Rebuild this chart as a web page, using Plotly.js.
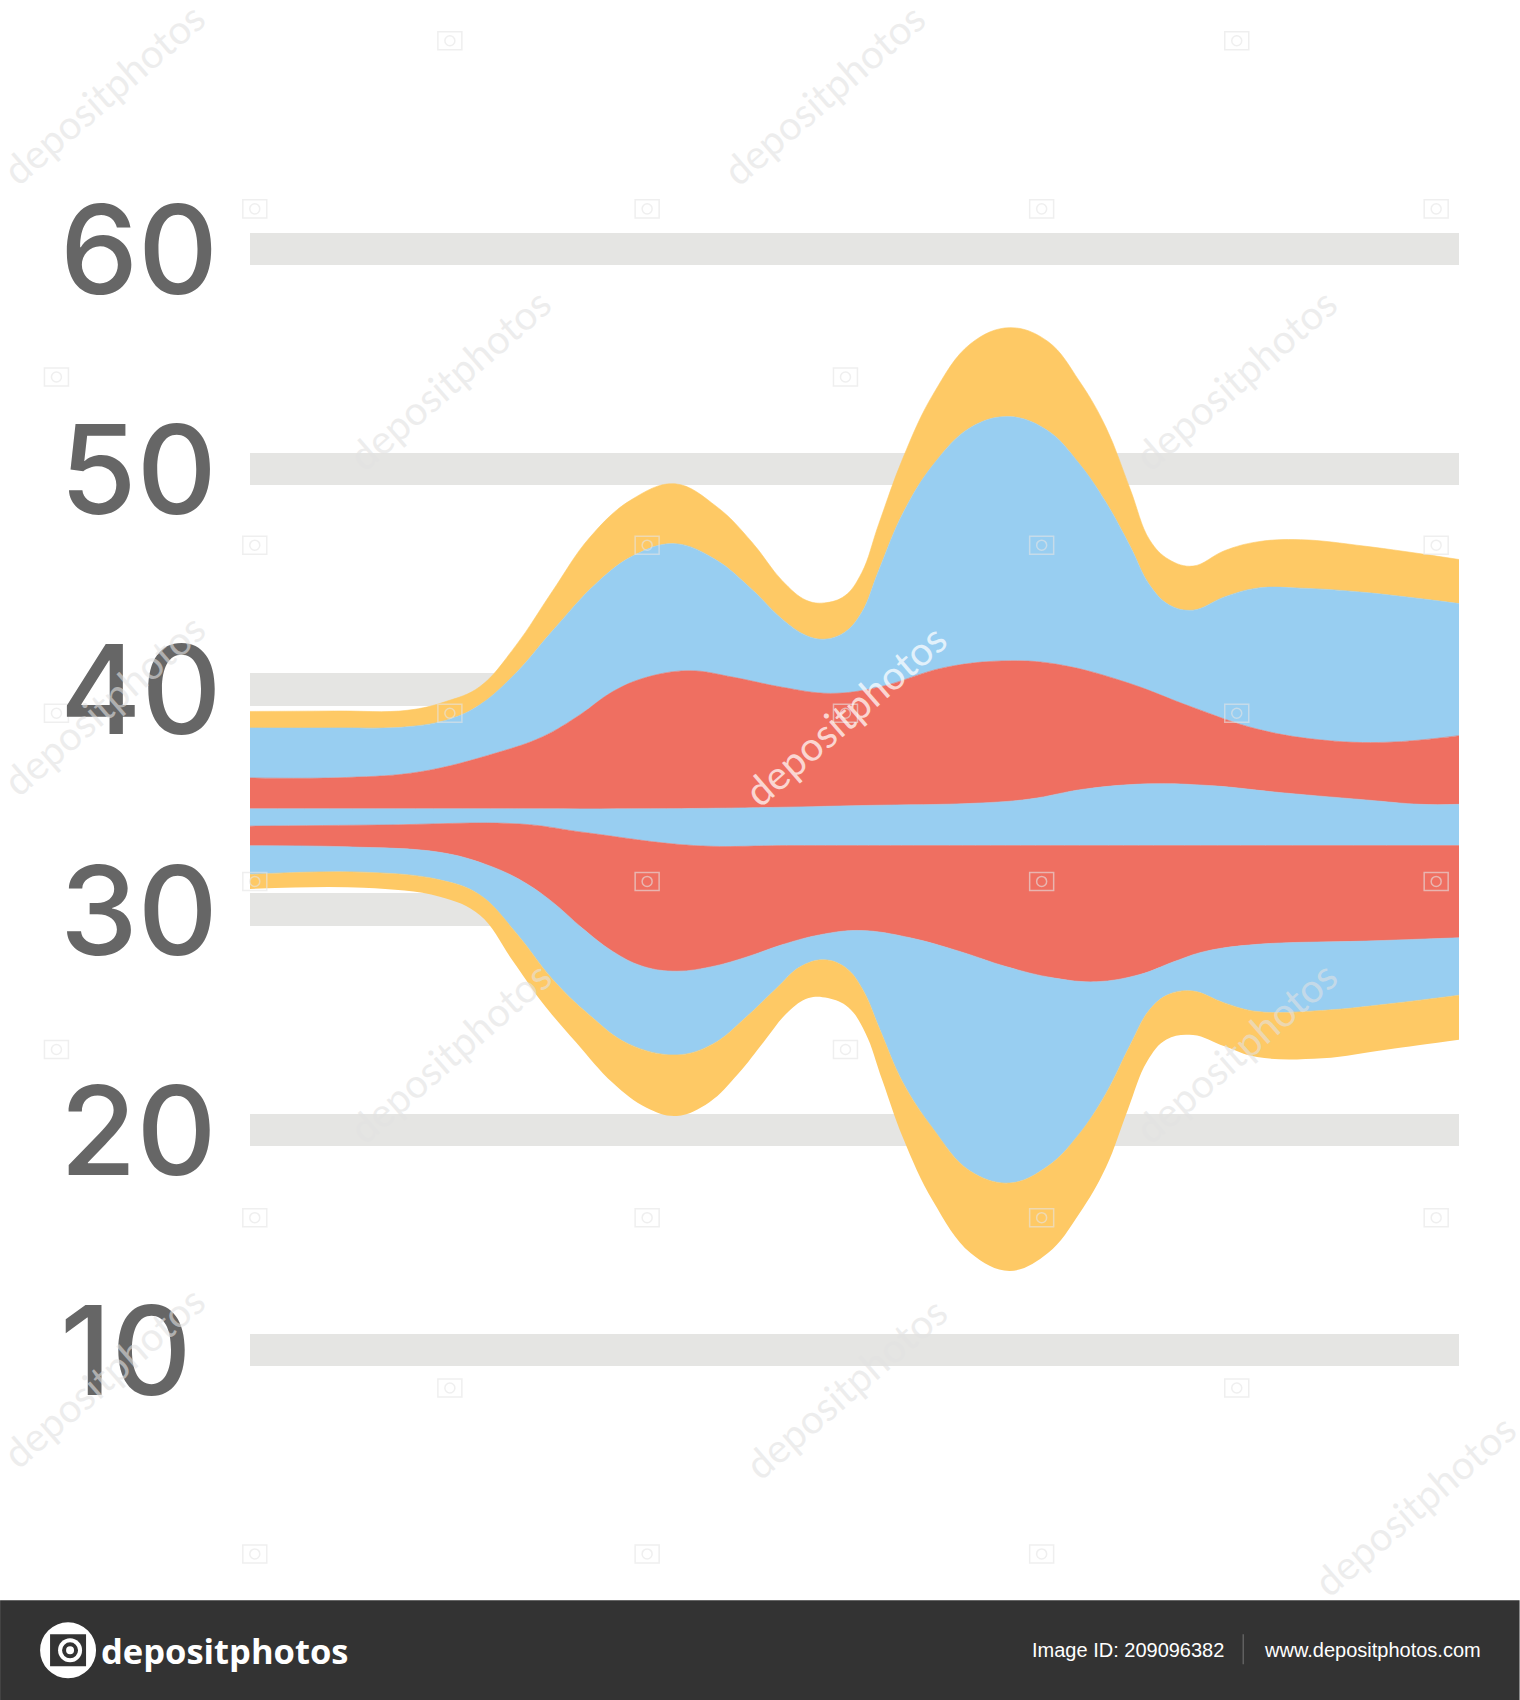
<!DOCTYPE html>
<html><head><meta charset="utf-8">
<script src="https://cdn.plot.ly/plotly-3.0.0.min.js"></script>
<style>html,body{margin:0;padding:0;background:#fff}</style></head>
<body><div id="chart" style="width:1520px;height:1700px"></div>
<script>
const tickValues=[60,50,40,30,20,10];
const tickLabels=["60","50","40","30","20","10"];

const topYellowX=[0,7,13,16.2,19,22,25,28.1,31.5,35.14,38.6,41.5,44,46,47.5,49.2,50.6,52,54,56.5,59.6,62.84,66,68.6,70.8,72.8,74.4,76,78,80.6,83.3,86.9,92.3,100];
const topYellowY=[39.0,39.02,39.05,39.45,40.12,42.0,44.45,46.9,48.6,49.34,48.3,46.7,44.95,44.05,43.93,44.25,45.3,47.5,50.5,53.4,55.7,56.43,55.8,54.0,51.9,49.1,46.8,45.9,45.6,46.3,46.7,46.8,46.5,45.9];

const topBlueX=[0,7,13,16.5,19,22,25,28.7,31.8,35.14,38.5,41.5,44,46,47.5,49.2,50.6,52,54,56.5,59.6,62.84,66,68.6,70.8,72.8,74.4,76,78,80.6,83.3,86.9,92.3,100];
const topBlueY=[38.25,38.25,38.3,38.65,39.3,40.75,42.65,44.85,46.1,46.62,45.9,44.55,43.2,42.45,42.28,42.6,43.5,45.4,48.0,50.2,51.9,52.39,51.75,50.25,48.5,46.5,44.75,43.85,43.6,44.2,44.6,44.6,44.4,43.9];

const topRedX=[0,8,14.1,20.4,24.2,27.3,30,32.8,36.38,40,44,48,52,57.5,62.9,67.2,72.6,77.9,83.3,88.7,94.1,100];
const topRedY=[35.98,36.0,36.26,37.12,37.85,38.85,39.9,40.55,40.85,40.55,40.1,39.82,40.1,41.0,41.3,41.1,40.3,39.2,38.2,37.7,37.6,37.9];

const midBlueX=[0,15.2,33.1,42.1,51.0,60.0,64.5,69.0,74.3,79.7,85.1,92.3,96.8,100];
const midBlueY=[34.58,34.58,34.58,34.63,34.73,34.83,35.02,35.47,35.71,35.62,35.32,34.98,34.78,34.78];

const lowRedX=[0,10.7,22.3,27.7,36.7,45,60,80,100];
const lowRedY=[33.79,33.84,33.89,33.5,32.91,32.91,32.91,32.91,32.91];

const lowBlueX=[0,8,15.7,19.5,22.5,25,27.5,30,32.5,35.31,38.3,41.1,44,47.1,50.5,54.6,58.7,62.6,66.4,70,73.6,76.5,79,83.3,92.3,100];
const lowBlueY=[32.9,32.85,32.6,32.05,31.3,30.35,29.15,28.1,27.42,27.2,27.42,27.85,28.4,28.85,29.05,28.72,28.1,27.4,26.9,26.72,27.05,27.65,28.1,28.42,28.57,28.72];

const lowYellowX=[0,9.4,15.7,19,22,25,28,31.3,35.31,38.3,41,43.5,45.5,47.5,49.3,50.7,52.1,54,56.5,59.5,62.84,66,68.5,70.8,72.8,74.4,76,78,80.6,83.3,88.7,94.1,100];
const lowYellowY=[31.6,31.7,31.35,30.67,28.95,26.85,25.25,23.9,23.4,23.9,25.1,26.4,27.4,27.72,27.35,26.35,24.55,22.15,20.05,18.15,17.58,18.35,19.75,21.65,23.85,25.45,26.15,26.3,25.76,25.37,25.42,25.71,26.11];

const bottomX=[0,9.4,15.7,19,21.7,24.2,27,30,32.8,35.31,38,40.4,42.5,44.5,46.2,47.8,49.5,50.9,52.3,54,56.5,59.6,62.84,66,68.6,70.8,72.6,74.2,75.8,78,80.6,83.3,88.7,94.1,100];
const bottomY=[30.94,30.99,30.58,29.75,27.7,25.76,23.95,22.13,21.0,20.63,21.25,22.55,24.0,25.35,25.98,25.98,25.55,24.4,22.25,19.65,16.75,14.4,13.59,14.4,16.2,18.3,20.9,23.1,24.1,24.3,23.79,23.3,23.25,23.65,24.09];

const yellow="#fec965", blue="#98cef1", red="#ef6f61", grey="#e5e5e3", ink="#666666", footer="#333333";

function edge(x,y,name,color){
  const t={x:x,y:y,name:name,mode:"lines",line:{shape:"spline",smoothing:1.1,width:0,color:color||"rgba(0,0,0,0)"},hoverinfo:"skip",showlegend:false};
  if(color){t.fill="tonexty";t.fillcolor=color;t.line.width=0.6;}
  return t;
}
const traces=[
  edge(bottomX,bottomY,"bottom edge"),
  edge(lowYellowX,lowYellowY,"lower yellow",yellow),
  edge(lowBlueX,lowBlueY,"lower blue",blue),
  edge(lowRedX,lowRedY,"lower red",red),
  edge(midBlueX,midBlueY,"middle blue",blue),
  edge(topRedX,topRedY,"upper red",red),
  edge(topBlueX,topBlueY,"upper blue",blue),
  edge(topYellowX,topYellowY,"upper yellow",yellow)
];

const L=250,R=1459.4,T=161.4,B=1437.8,K=1.0842;
const px=v=>(v-L)/(R-L), py=v=>(B-v)/(B-T);

const anns=tickLabels.map((s,i)=>({text:s,xref:"paper",yref:"y",x:px(58),y:tickValues[i],xanchor:"left",yanchor:"middle",showarrow:false,
  font:{family:"Inter",size:124,color:ink,weight:500}}));

const marks=[[780,660],[415,350],[1140,350],[415,970],[1140,970],[760,87],[780,1280],[95,87],[95,650],[95,1270],[1305,1388]];
marks.forEach((m,i)=>anns.push({text:"depositphotos",xref:"paper",yref:"paper",x:px(m[0]*K),y:py(m[1]*K),xanchor:"center",yanchor:"middle",showarrow:false,textangle:-41,
  font:{family:"Lato",size:40,color:i===0?"rgba(255,255,255,0.72)":"rgba(226,226,226,0.6)"}}));

anns.push({text:"<b>depositphotos</b>",xref:"paper",yref:"paper",x:px(99),y:py(1650),xanchor:"left",yanchor:"middle",showarrow:false,font:{family:"Open Sans",size:34.5,color:"#fff"}});
anns.push({text:"Image ID: 209096382",xref:"paper",yref:"paper",x:px(1226),y:py(1650),xanchor:"right",yanchor:"middle",showarrow:false,font:{family:"Liberation Sans",size:20,color:"#fff"}});
anns.push({text:"www.depositphotos.com",xref:"paper",yref:"paper",x:px(1483),y:py(1650),xanchor:"right",yanchor:"middle",showarrow:false,font:{family:"Liberation Sans",size:20,color:"#fff"}});

const paperRect=(x0,y0,x1,y1,fill)=>({type:"rect",xref:"paper",yref:"paper",x0:px(x0),x1:px(x1),y0:py(y0),y1:py(y1),fillcolor:fill,line:{width:0},layer:"above"});
const paperCircle=(cx,cy,r,fill)=>({type:"circle",xref:"paper",yref:"paper",x0:px(cx-r),x1:px(cx+r),y0:py(cy-r),y1:py(cy+r),fillcolor:fill,line:{width:0},layer:"above"});

// faint camera stamps of the stock-photo watermark
const stamps=[[415,38],[1141,38],[235,193],[597,193],[961,193],[1325,193],[52,348],[780,348],[235,503],[597,503],[961,503],[1325,503],[52,658],[415,658],[780,658],[1141,658],[235,813],[597,813],[961,813],[1325,813],[52,968],[780,968],[235,1123],[597,1123],[961,1123],[1325,1123],[415,1280],[1141,1280],[235,1433],[597,1433],[961,1433]];
const stampLine={width:1.5,color:"rgba(228,228,228,0.6)"};
const shapes=[];
stamps.forEach(s=>{
  const cx=s[0]*K, cy=s[1]*K;
  shapes.push({type:"rect",xref:"paper",yref:"paper",x0:px(cx-12),x1:px(cx+12),y0:py(cy-9),y1:py(cy+9),fillcolor:"rgba(0,0,0,0)",line:stampLine,layer:"above"});
  shapes.push({type:"circle",xref:"paper",yref:"paper",x0:px(cx-5),x1:px(cx+5),y0:py(cy-5),y1:py(cy+5),fillcolor:"rgba(0,0,0,0)",line:stampLine,layer:"above"});
});
shapes.push(
  paperRect(0,1600,1520,1700,footer),
  paperRect(1243,1634,1244,1664,"#777"),
  paperCircle(68,1650,28,"#fff"),
  paperRect(50,1634,86,1666,footer),
  paperCircle(70,1650,12,"#fff"),
  paperCircle(70,1650,8,footer),
  paperCircle(70,1650,4,"#fff")
);

Plotly.newPlot("chart",traces,{
  width:1520,height:1700,
  margin:{l:L,r:1520-R,t:T,b:1700-B,pad:0},
  paper_bgcolor:"#fff",plot_bgcolor:"#fff",showlegend:false,
  xaxis:{range:[0,100],visible:false,fixedrange:true},
  yaxis:{range:[6,64],tickmode:"array",tickvals:tickValues,ticktext:tickLabels,showticklabels:false,ticks:"",
    showgrid:true,gridcolor:grey,gridwidth:32.5,zeroline:false,showline:false,fixedrange:true},
  annotations:anns,shapes:shapes
},{displayModeBar:false,staticPlot:true});
</script></body></html>
